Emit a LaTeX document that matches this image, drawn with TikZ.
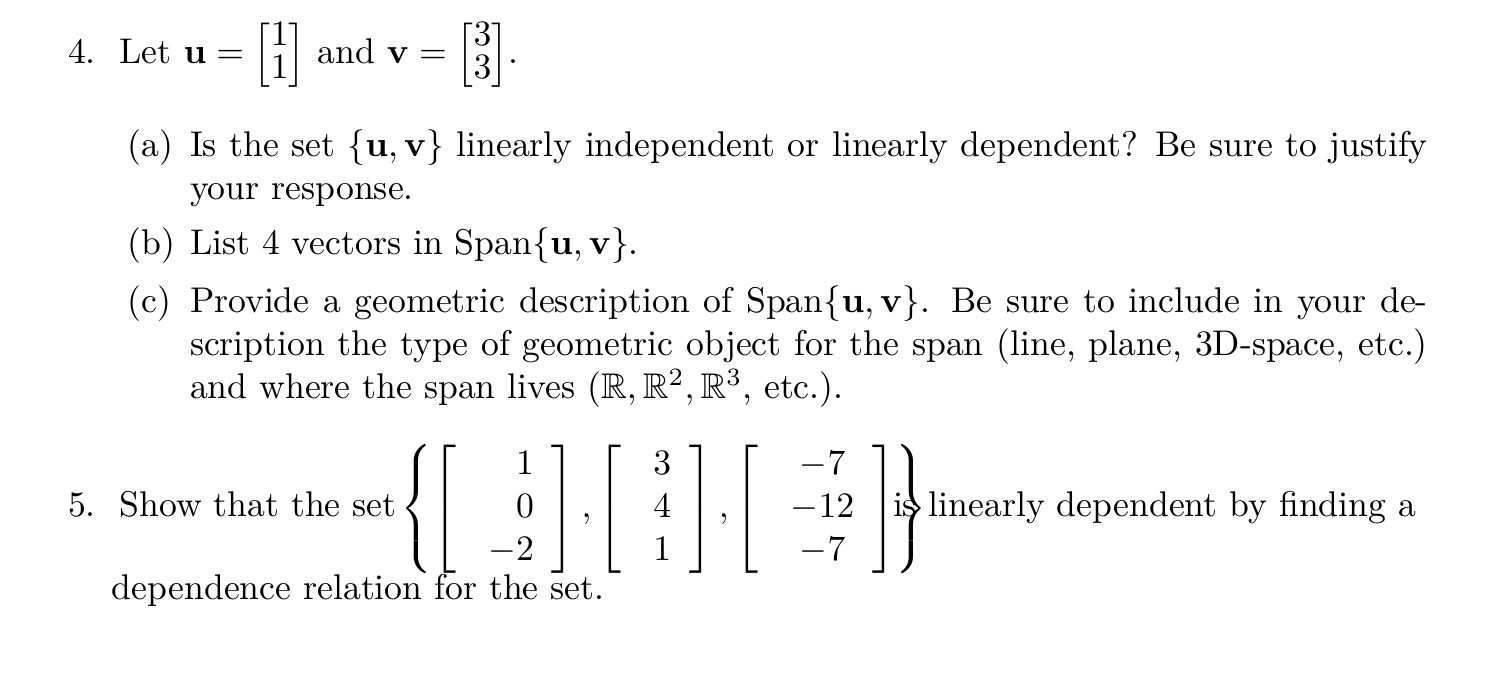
\documentclass[tikz,border=0pt]{standalone}
\usepackage{amsmath,amssymb}
\begin{document}
\begin{tikzpicture}[x=0.28pt,y=-0.28pt,txt/.style={anchor=base west,inner sep=0pt,outer sep=0pt}]
\useasboundingbox (0,0) rectangle (1494,676);
\newcommand{\smat}[1]{\left[\renewcommand{\arraystretch}{0.72}\begin{array}{@{}c@{}}#1\end{array}\right]}
\newcommand{\pd}[1]{\hspace{9pt}#1\hspace{5pt}}
\node[txt] (q4) at (68,64) {4.\ \ Let $\mathbf{u}=\smat{1\\1}$ and $\mathbf{v}=\smat{3\\3}$.};
\node[txt] (qa) at (128,157) {(a)};
\node[txt,text width=346.6pt,align=justify] (ta) at (190,157) {Is the set $\{\mathbf{u},\mathbf{v}\}$ linearly independent or linearly dependent? Be sure to justify\linebreak your response.};
\node[txt] (qb) at (128,255) {(b)};
\node[txt] (tb) at (190,255) {List 4 vectors in Span$\{\mathbf{u},\mathbf{v}\}$.};
\node[txt] (qc) at (128,313) {(c)};
\node[txt,text width=346.6pt,align=justify] (tc) at (190,313) {Provide a geometric description of Span$\{\mathbf{u},\mathbf{v}\}$. Be sure to include in your de-\linebreak scription the type of geometric object for the span (line, plane, 3D-space, etc.)\linebreak and where the span lives ($\mathbb{R},\mathbb{R}^2,\mathbb{R}^3$, etc.).};
\node[txt] (q5) at (68,517) {5.\ \ Show that the set};
\node[anchor=west,inner sep=0pt] (set) at (400,509) {$\left\{\begin{bmatrix}\pd{\phantom{-}1}\\\pd{\phantom{-}0}\\\pd{-2}\end{bmatrix},\begin{bmatrix}\pd3\\\pd4\\\pd1\end{bmatrix},\begin{bmatrix}\pd{\phantom{-1}\llap{$-7$}}\\\pd{-12}\\\pd{\phantom{-1}\llap{$-7$}}\end{bmatrix}\right\}$};
\node[txt] (t5) at (893,517) {is linearly dependent by finding a};
\node[txt] (t5b) at (112,600) {dependence relation for the set.};
\end{tikzpicture}
\end{document}
